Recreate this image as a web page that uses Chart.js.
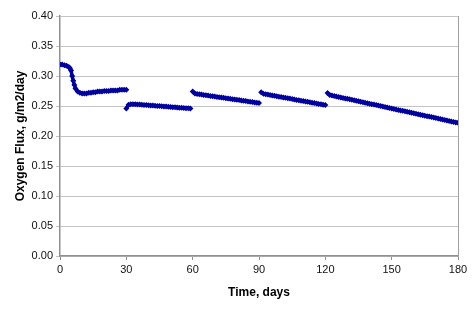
<!DOCTYPE html>
<html>
<head>
<meta charset="utf-8">
<script src="https://cdn.jsdelivr.net/npm/chart.js@4/dist/chart.umd.min.js"></script>
<style>
  html, body { margin: 0; padding: 0; background: #fff; }
  #wrap { width: 474px; height: 310px; position: relative; }
</style>
</head>
<body>
<div id="wrap"><canvas id="fluxChart"></canvas></div>
<script>
// time axis (days), one entry per plotted point
const days = [
  0, 1, 2, 3, 4, 4.5, 5, 5.5, 6, 6.5, 7, 8, 9, 10, 11, 12, 13, 14, 15, 16, 17, 18, 19, 20,
  21, 22, 23, 24, 25, 26, 27, 28, 29, 30,
  30, 31, 32, 33, 34, 35, 36, 37, 38, 39, 40, 41, 42, 43, 44, 45, 46, 47, 48, 49, 50,
  51, 52, 53, 54, 55, 56, 57, 58, 59,
  60, 61, 62, 63, 64, 65, 66, 67, 68, 69, 70, 71, 72, 73, 74, 75, 76, 77, 78, 79, 80,
  81, 82, 83, 84, 85, 86, 87, 88, 89, 90,
  91, 92, 93, 94, 95, 96, 97, 98, 99, 100, 101, 102, 103, 104, 105, 106, 107, 108, 109, 110,
  111, 112, 113, 114, 115, 116, 117, 118, 119, 120,
  121, 122, 123, 124, 125, 126, 127, 128, 129, 130, 131, 132, 133, 134, 135, 136, 137, 138, 139, 140,
  141, 142, 143, 144, 145, 146, 147, 148, 149, 150, 151, 152, 153, 154, 155, 156, 157, 158, 159, 160,
  161, 162, 163, 164, 165, 166, 167, 168, 169, 170, 171, 172, 173, 174, 175, 176, 177, 178, 179, 180
];

// oxygen flux, g/m2/day
const flux = [
  0.319, 0.319, 0.318, 0.317, 0.315, 0.313, 0.309, 0.300, 0.292, 0.285, 0.279,
  0.274, 0.272, 0.271, 0.271, 0.271, 0.272, 0.272, 0.273, 0.273, 0.274, 0.274, 0.274,
  0.275, 0.275, 0.275, 0.276, 0.276, 0.276, 0.276, 0.277, 0.277, 0.277, 0.277,

  0.246, 0.252, 0.253, 0.253, 0.253,
  0.2527, 0.2524, 0.2521, 0.2518, 0.2515, 0.2512, 0.2510, 0.2507, 0.2504, 0.2501,
  0.2498, 0.2495, 0.2492, 0.2490, 0.2487, 0.2484, 0.2481, 0.2478, 0.2475, 0.2472,
  0.2470, 0.2467, 0.2464, 0.2461, 0.2458,

  0.274, 0.271, 0.2700,
  0.2695, 0.2690, 0.2684, 0.2679, 0.2673, 0.2668, 0.2663, 0.2657, 0.2652, 0.2646,
  0.2641, 0.2636, 0.2630, 0.2625, 0.2619, 0.2614, 0.2609, 0.2603, 0.2598, 0.2592,
  0.2587, 0.2582, 0.2576, 0.2571, 0.2565, 0.2560, 0.2555, 0.2549,

  0.273, 0.2705, 0.2695,
  0.2690, 0.2683, 0.2677, 0.2670, 0.2663, 0.2656, 0.2650, 0.2643, 0.2636, 0.2629,
  0.2623, 0.2616, 0.2609, 0.2602, 0.2596, 0.2589, 0.2582, 0.2575, 0.2569, 0.2562,
  0.2555, 0.2548, 0.2542, 0.2535, 0.2528, 0.2521, 0.2515,

  0.2715, 0.2685,
  0.2675, 0.2667, 0.2659, 0.2651, 0.2643, 0.2635, 0.2627, 0.2619, 0.2611, 0.2603,
  0.2595, 0.2587, 0.2579, 0.2571, 0.2563, 0.2555, 0.2547, 0.2539, 0.2531, 0.2523,
  0.2515, 0.2507, 0.2499, 0.2491, 0.2483, 0.2475, 0.2467, 0.2459, 0.2451, 0.2443,
  0.2435, 0.2427, 0.2419, 0.2411, 0.2403, 0.2395, 0.2387, 0.2379, 0.2371, 0.2363,
  0.2355, 0.2347, 0.2339, 0.2331, 0.2323, 0.2315, 0.2307, 0.2299, 0.2291, 0.2283,
  0.2275, 0.2267, 0.2259, 0.2251, 0.2243, 0.2235, 0.2227, 0.2219
];

const xTicks = [0, 30, 60, 90, 120, 150, 180];
const yTicks = [0, 0.05, 0.10, 0.15, 0.20, 0.25, 0.30, 0.35, 0.40];

const points = days.map((d, i) => ({ x: d, y: flux[i] }));
const markerColor = '#0000a0';

// grey right edge of the plot area
const frame = {
  id: 'frame',
  beforeDatasetsDraw(chart) {
    const { ctx, chartArea: a } = chart;
    ctx.save();
    ctx.strokeStyle = '#a0a0a0';
    ctx.lineWidth = 1;
    ctx.beginPath();
    ctx.moveTo(Math.round(a.right) + 0.5, a.top);
    ctx.lineTo(Math.round(a.right) + 0.5, a.bottom);
    ctx.stroke();
    ctx.restore();
  }
};

const font = "Arial, 'Liberation Sans', sans-serif";

new Chart(document.getElementById('fluxChart'), {
  type: 'scatter',
  data: {
    datasets: [{
      data: points,
      showLine: true,
      borderColor: markerColor,
      borderWidth: 3.5,
      // no connecting stroke across the jumps between aeration periods
      segment: {
        borderColor: c => Math.abs(c.p1.parsed.y - c.p0.parsed.y) > 0.012 ? 'rgba(0,0,0,0)' : undefined
      },
      pointStyle: 'rectRot',
      pointRadius: 3,
      pointBackgroundColor: markerColor,
      pointBorderColor: markerColor,
      pointBorderWidth: 0
    }]
  },
  options: {
    responsive: true,
    maintainAspectRatio: false,
    animation: false,
    layout: { padding: { top: 16, right: 16, left: 0, bottom: 0 } },
    plugins: { legend: { display: false }, tooltip: { enabled: false } },
    scales: {
      x: {
        type: 'linear',
        min: xTicks[0],
        max: xTicks[xTicks.length - 1],
        afterBuildTicks: s => { s.ticks = xTicks.map(v => ({ value: v })); },
        afterFit: s => { s.height = 54; },
        border: { color: '#909090', width: 1.5 },
        grid: { drawOnChartArea: false, tickLength: 4, color: '#909090' },
        ticks: { color: '#111', font: { family: font, size: 11 }, padding: 3, maxRotation: 0 },
        title: {
          display: true, text: 'Time, days', color: '#000',
          font: { family: font, size: 12, weight: 'bold' },
          padding: { top: 0, bottom: 10 }
        }
      },
      y: {
        type: 'linear',
        min: yTicks[0],
        max: yTicks[yTicks.length - 1],
        afterBuildTicks: s => { s.ticks = yTicks.map(v => ({ value: v })); },
        afterFit: s => { s.width = 60; },
        border: { color: '#909090', width: 1.5 },
        grid: { color: '#c4c4c4', tickLength: 4 },
        ticks: {
          color: '#111', font: { family: font, size: 11 }, padding: 3,
          callback: v => v.toFixed(2)
        },
        title: {
          display: true, text: 'Oxygen Flux, g/m2/day', color: '#000',
          font: { family: font, size: 12, weight: 'bold' },
          padding: { top: 13, bottom: 0 }
        }
      }
    }
  },
  plugins: [frame]
});
</script>
</body>
</html>
